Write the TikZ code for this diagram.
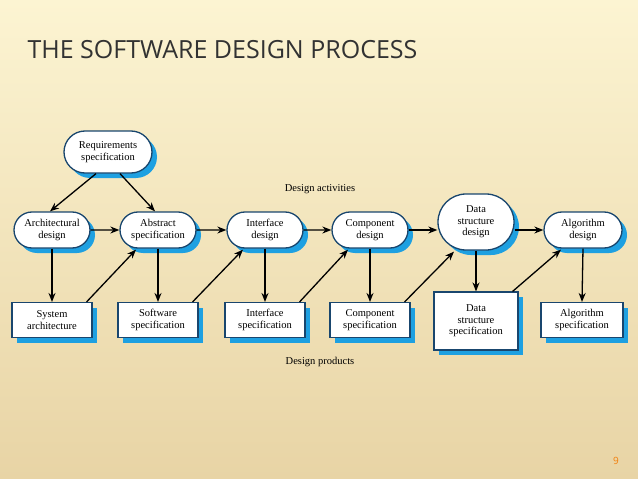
\documentclass[tikz,border=0pt]{standalone}
\usepackage{fontspec}
\setmainfont{Liberation Serif}
\newfontfamily\titlefont{Open Sans}
\usetikzlibrary{shapes.misc,arrows.meta,shadows}
\definecolor{bd}{RGB}{25,70,110}
\definecolor{sh}{RGB}{30,160,225}
\definecolor{bgA}{RGB}{252,244,210}
\definecolor{bgB}{RGB}{232,212,165}
\definecolor{ttl}{RGB}{50,50,50}
\begin{document}
\begin{tikzpicture}[x=1pt,y=-1pt,
  act/.style={rounded rectangle,draw=bd,line width=1.3pt,fill=white,minimum width=80pt,minimum height=36pt,align=center,font=\fontsize{10.5}{11.5}\selectfont,inner sep=2pt,drop shadow={shadow xshift=5pt,shadow yshift=-5pt,fill=sh,opacity=1}},
  prod/.style={rectangle,draw=bd,line width=1.1pt,fill=white,minimum width=80pt,minimum height=35pt,align=center,font=\fontsize{10.5}{11.5}\selectfont,inner sep=2pt,drop shadow={shadow xshift=5pt,shadow yshift=-5pt,fill=sh,opacity=1}},
  arr/.style={-{Stealth[length=9pt,width=7pt]},line width=1.3pt}]
\shade[top color=bgA,bottom color=bgB] (0,0) rectangle (638,479);
\useasboundingbox (0,0) rectangle (638,479);
\node[anchor=west,font=\titlefont\fontsize{25}{28}\selectfont,text=ttl] (title) at (24,50) {THE SOFTWARE DESIGN PROCESS};
\node[font=\titlefont\fontsize{10}{12}\selectfont,text=orange!80!brown] (pg) at (616,461) {9};
\node[act,minimum width=92pt,minimum height=42pt] (req) at (108,152) {Requirements\\specification};
\node[act] (a1) at (52,230) {Architectural\\design};
\node[act] (a2) at (158,230) {Abstract\\specification};
\node[act] (a3) at (265,230) {Interface\\design};
\node[act] (a4) at (370,230) {Component\\design};
\node[act,minimum height=56pt] (a5) at (476,222) {Data\\structure\\design};
\node[act,minimum width=82pt] (a6) at (583,230) {Algorithm\\design};
\node[prod] (p1) at (52,320) {System\\architecture};
\node[prod] (p2) at (158,320) {Software\\specification};
\node[prod] (p3) at (265,320) {Interface\\specification};
\node[prod] (p4) at (370,320) {Component\\specification};
\node[prod,minimum width=84pt,minimum height=58pt] (p5) at (476,321) {Data\\structure\\specification};
\node[prod,minimum width=82pt] (p6) at (582,320) {Algorithm\\specification};
\node[font=\fontsize{10.5}{12}\selectfont] (la) at (320,189) {Design activities};
\node[font=\fontsize{10.5}{12}\selectfont] (lp) at (320,362) {Design products};
\draw[arr] ([xshift=-12pt]req.south) -- ([xshift=-2pt]a1.north);
\draw[arr] ([xshift=12pt]req.south) -- ([xshift=-3pt]a2.north);
\foreach \i/\j in {a1/a2,a2/a3,a3/a4}{\draw[arr] (\i) -- (\j);}
\draw[arr] (a4.east) -- (a4.east -| a5.west);
\draw[arr] (a6.west -| a5.east) -- (a6.west);
\foreach \i/\j in {a1/p1,a2/p2,a3/p3,a4/p4,a5/p5,a6/p6}{\draw[arr] (\i.south) -- (\j.north);}
\foreach \i/\j in {p1/a2,p2/a3,p3/a4,p4/a5,p5/a6}{\draw[arr] ([xshift=-6pt]\i.north east) -- ([xshift=-22pt,yshift=-1pt]\j.south);}
\end{tikzpicture}
\end{document}
